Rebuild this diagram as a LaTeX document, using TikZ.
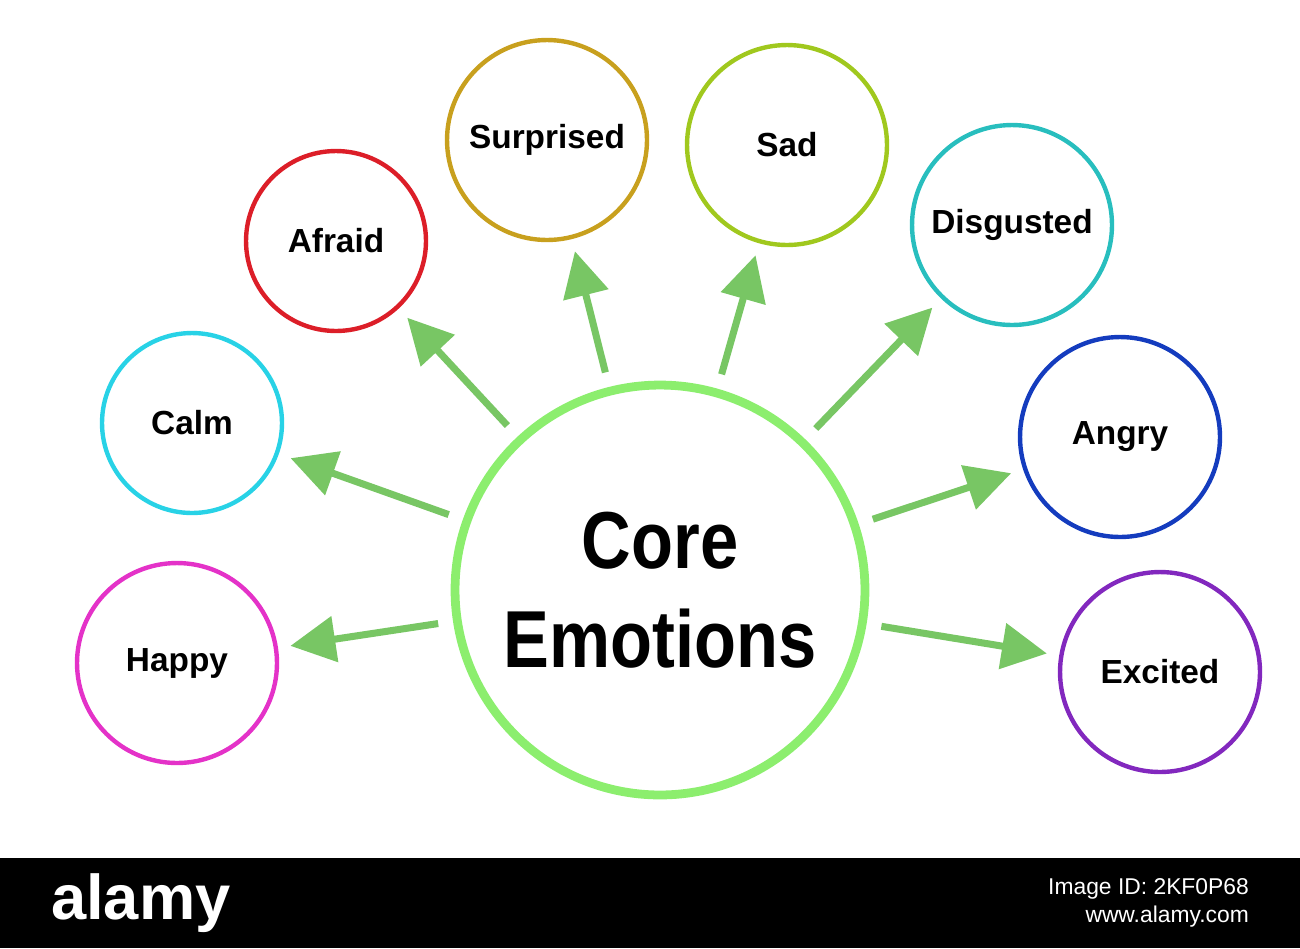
\documentclass[tikz,border=0pt]{standalone}
\usepackage{fontspec}
\setmainfont{Liberation Sans}
\usetikzlibrary{arrows.meta, positioning}
\definecolor{coregreen}{RGB}{140,238,110}
\definecolor{arrowgreen}{RGB}{120,198,100}
\definecolor{happyc}{RGB}{228,50,200}
\definecolor{calmc}{RGB}{40,210,230}
\definecolor{afraidc}{RGB}{220,30,40}
\definecolor{surpc}{RGB}{200,160,30}
\definecolor{sadc}{RGB}{160,200,30}
\definecolor{disgc}{RGB}{40,190,190}
\definecolor{angryc}{RGB}{20,60,190}
\definecolor{excitc}{RGB}{130,40,190}

\begin{document}
\begin{tikzpicture}[x=0.02cm, y=-0.02cm,
            emo/.style={circle, draw, line width=2.5pt, minimum size=3.6cm, inner sep=0pt, font=\fontsize{19}{24}\selectfont\bfseries},
            arrow/.style={-{Triangle[length=0.9cm, width=0.9cm]}, arrowgreen, line width=4pt, shorten <=0.3cm, shorten >=0.25cm}
        ]
            \useasboundingbox (0,0) rectangle (1300,948);
            \node[circle, draw=coregreen, line width=5pt, minimum size=8.2cm, align=center,
                  font=\fontsize{46}{56}\selectfont\bfseries] (core) at (660,590) {\scalebox{0.85}[1]{Core}\\\scalebox{0.85}[1]{Emotions}};
            \node[emo, draw=happyc, minimum size=4cm] (happy) at (177,663) {Happy};
            \node[emo, draw=calmc] (calm) at (192,423) {Calm};
            \node[emo, draw=afraidc] (afraid) at (336,241) {Afraid};
            \node[emo, draw=surpc, minimum size=4cm] (surp) at (547,140) {Surprised};
            \node[emo, draw=sadc, minimum size=4cm] (sad) at (787,145) {Sad};
            \node[emo, draw=disgc, minimum size=4cm] (disg) at (1012,225) {Disgusted};
            \node[emo, draw=angryc, minimum size=4cm] (angry) at (1120,437) {Angry};
            \node[emo, draw=excitc, minimum size=4cm] (excit) at (1160,672) {Excited};

            \draw[arrow] (core) -- (happy);
            \draw[arrow] (core) -- (calm);
            \draw[arrow] (core) -- (afraid);
            \draw[arrow] (core) -- (surp);
            \draw[arrow] (core) -- (sad);
            \draw[arrow] (core) -- (disg);
            \draw[arrow] (core) -- (angry);
            \draw[arrow] (core) -- (excit);

            % stock footer
            \fill[black] (0,858) rectangle (1300,948);
            \node[white, font=\fontsize{36}{40}\selectfont\bfseries, anchor=west] (logo) at (45,903) {alamy};
            \node[white, font=\fontsize{13}{16}\selectfont, anchor=east, align=right] (imgid) at (1255,903) {Image ID: 2KF0P68\\www.alamy.com};
        \end{tikzpicture}
\end{document}
